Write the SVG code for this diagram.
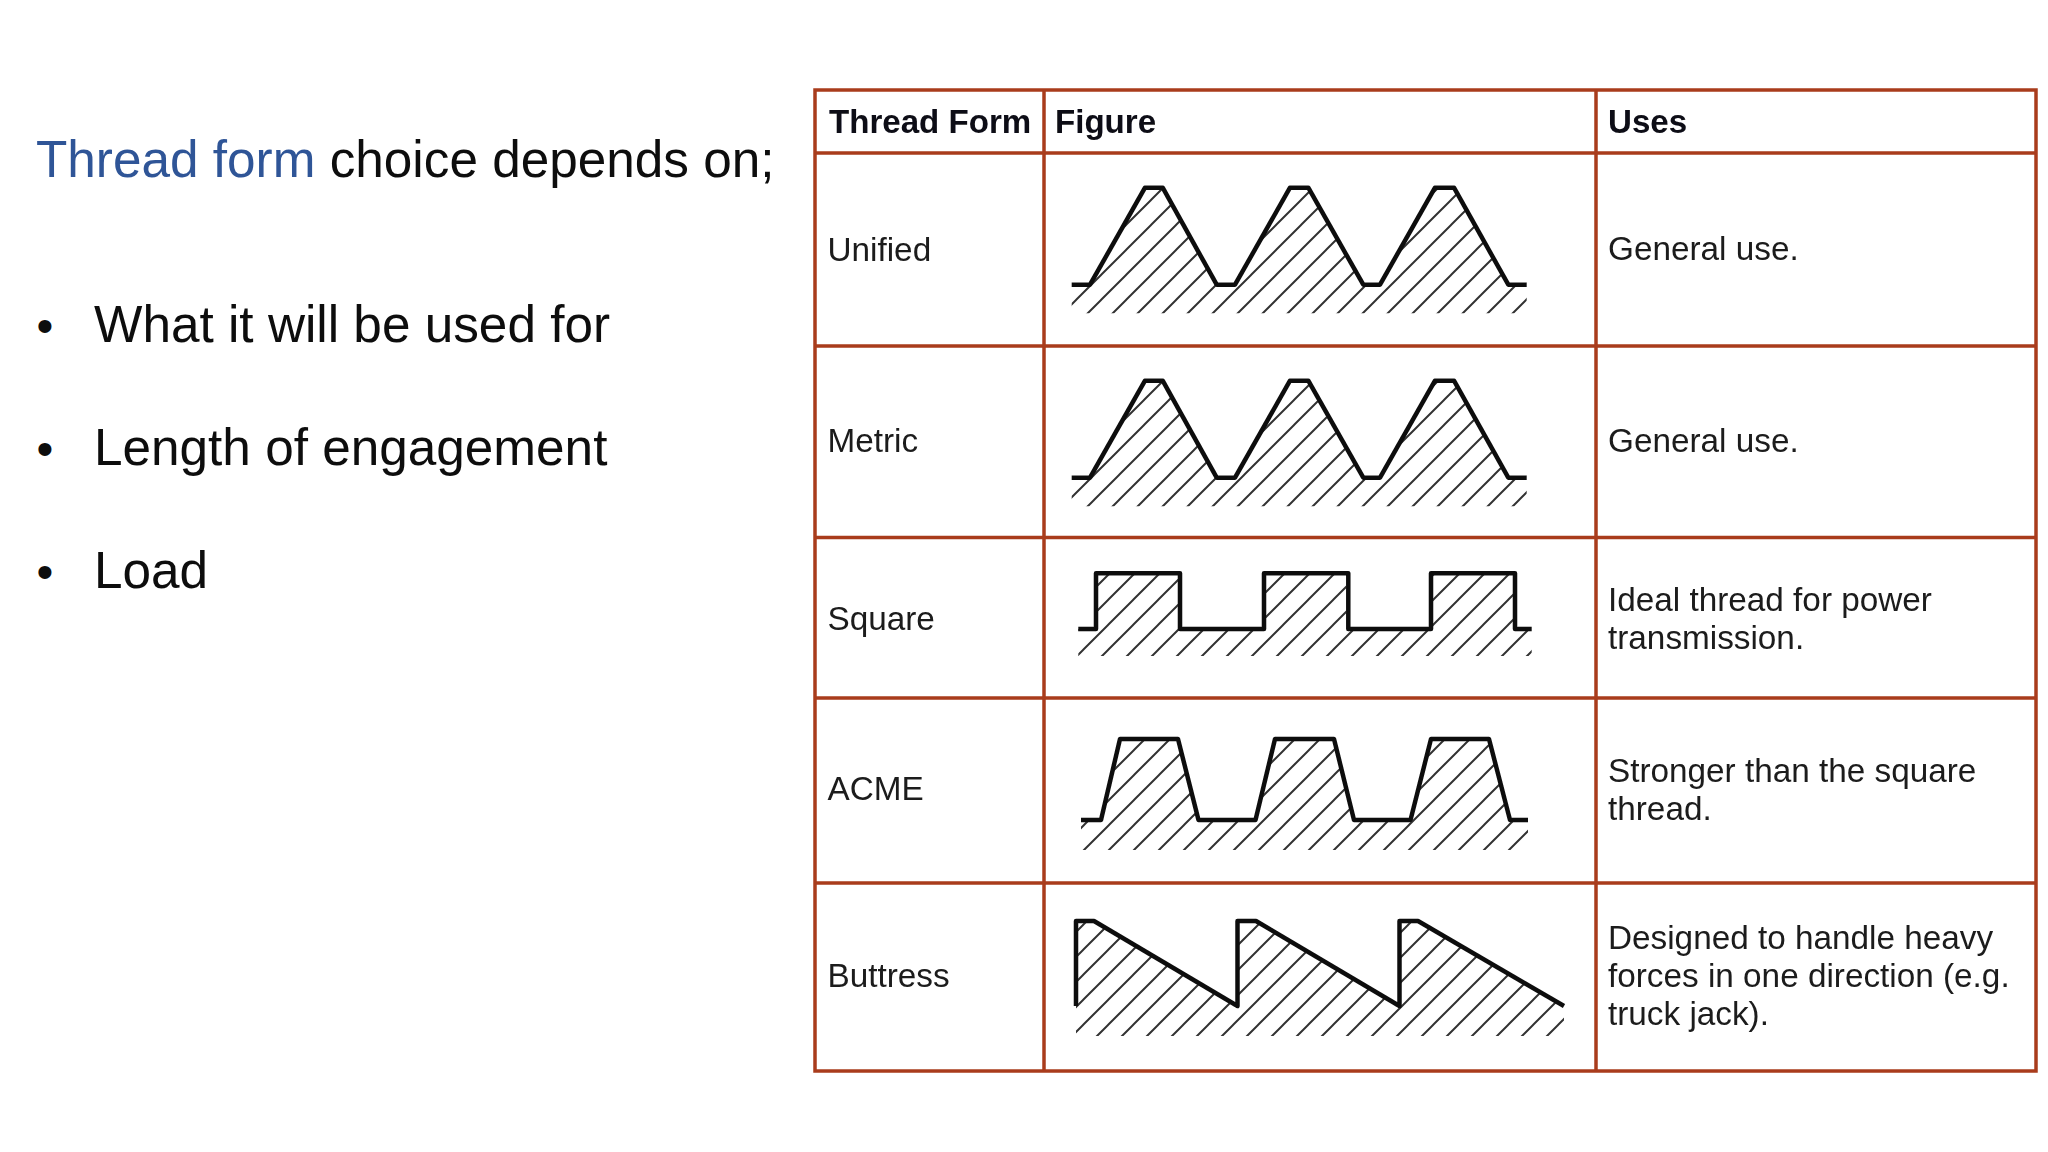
<svg xmlns="http://www.w3.org/2000/svg" width="2048" height="1152" viewBox="0 0 2048 1152">
<style>
text{font-family:"Liberation Sans",Arial,sans-serif}
.lead{font-size:51.3px;fill:#0d0d0d}
.dot{font-size:48px;fill:#0d0d0d}
.cell{font-size:33.300px;fill:#1a1a1a}
.head{font-size:33.100px;font-weight:700;fill:#0a0a14}
.grid{stroke:#a93c1c;stroke-width:3.5;fill:none}
.profile{fill:none;stroke:#111;stroke-width:4.500;stroke-linejoin:round}
.tile{stroke:#333;stroke-width:2;fill:none}
.soft{filter:url(#soft)}
</style>
<defs>
<filter id="soft" x="-2%" y="-5%" width="104%" height="110%"><feGaussianBlur stdDeviation="0.5"/></filter>
<path id="t" class="tile" d="M-5 5L5 -5M0 25L25 0M20 30L30 20"/>
<pattern id="h1" width="25" height="25" patternUnits="userSpaceOnUse" patternTransform="translate(1 0)"><use href="#t"/></pattern>
<pattern id="h2" width="25" height="25" patternUnits="userSpaceOnUse" patternTransform="translate(19 0)"><use href="#t"/></pattern>
<pattern id="h3" width="25" height="25" patternUnits="userSpaceOnUse" patternTransform="translate(8 0)"><use href="#t"/></pattern>
<pattern id="h4" width="25" height="25" patternUnits="userSpaceOnUse" patternTransform="translate(9 0)"><use href="#t"/></pattern>
<pattern id="h5" width="25" height="25" patternUnits="userSpaceOnUse" patternTransform="translate(8 0)"><use href="#t"/></pattern>
</defs>
<rect width="2048" height="1152" fill="#fff"/>
<g id="intro">
<text class="lead" x="36" y="177"><tspan fill="#2f5597">Thread form</tspan> choice depends on;</text>
<text class="dot" x="36.600" y="341.600">•</text><text class="lead" x="94" y="342">What it will be used for</text>
<text class="dot" x="36.600" y="464.600">•</text><text class="lead" x="94" y="465">Length of engagement</text>
<text class="dot" x="36.600" y="587.600">•</text><text class="lead" x="94" y="588">Load</text>
</g>
<g id="table-grid" class="grid">
<rect x="815" y="90" width="1221" height="981"/>
<path d="M1044 90V1071M1596 90V1071M815 153H2036M815 346H2036M815 537.500H2036M815 698H2036M815 883H2036"/>
</g>
<g id="row-header" class="soft">
<text class="head" x="829" y="133">Thread Form</text>
<text class="head" x="1055" y="133">Figure</text>
<text class="head" x="1608" y="133">Uses</text>
</g>
<g id="row-unified" class="soft">
<text class="cell" x="827.500" y="261">Unified</text>
<polygon fill="url(#h1)" points="1071.700,284.700 1090,284.700 1145,187.700 1162.700,187.700 1216.700,284.700 1235,284.700 1290,187.700 1308.300,187.700 1363.300,284.700 1380,284.700 1435,187.700 1454,187.700 1508.300,284.700 1526.700,284.700 1526.700,313.300 1071.700,313.300"/>
<polyline class="profile" points="1071.700,284.700 1090,284.700 1145,187.700 1162.700,187.700 1216.700,284.700 1235,284.700 1290,187.700 1308.300,187.700 1363.300,284.700 1380,284.700 1435,187.700 1454,187.700 1508.300,284.700 1526.700,284.700"/>
<text class="cell" x="1608" y="260">General use.</text>
</g>
<g id="row-metric" class="soft">
<text class="cell" x="827.500" y="452">Metric</text>
<polygon fill="url(#h2)" points="1071.700,477.700 1090,477.700 1145,380.700 1162.700,380.700 1216.700,477.700 1235,477.700 1290,380.700 1308.300,380.700 1363.300,477.700 1380,477.700 1435,380.700 1454,380.700 1508.300,477.700 1526.700,477.700 1526.700,506.300 1071.700,506.300"/>
<polyline class="profile" points="1071.700,477.700 1090,477.700 1145,380.700 1162.700,380.700 1216.700,477.700 1235,477.700 1290,380.700 1308.300,380.700 1363.300,477.700 1380,477.700 1435,380.700 1454,380.700 1508.300,477.700 1526.700,477.700"/>
<text class="cell" x="1608" y="452">General use.</text>
</g>
<g id="row-square" class="soft">
<text class="cell" x="827.500" y="630">Square</text>
<polygon fill="url(#h3)" points="1078.300,629 1096,629 1096,573.300 1180,573.300 1180,629 1264,629 1264,573.300 1348.300,573.300 1348.300,629 1431,629 1431,573.300 1515,573.300 1515,629 1531.700,629 1531.700,656 1078.300,656"/>
<polyline class="profile" points="1078.300,629 1096,629 1096,573.300 1180,573.300 1180,629 1264,629 1264,573.300 1348.300,573.300 1348.300,629 1431,629 1431,573.300 1515,573.300 1515,629 1531.700,629"/>
<text class="cell" x="1608" y="611">Ideal thread for power</text>
<text class="cell" x="1608" y="649">transmission.</text>
</g>
<g id="row-acme" class="soft">
<text class="cell" x="827.500" y="800">ACME</text>
<polygon fill="url(#h4)" points="1081,820 1101,820 1120,739 1178,739 1198.500,820 1255.500,820 1275,739 1334,739 1354,820 1410.500,820 1431,739 1489,739 1510,820 1528,820 1528,850 1081,850"/>
<polyline class="profile" points="1081,820 1101,820 1120,739 1178,739 1198.500,820 1255.500,820 1275,739 1334,739 1354,820 1410.500,820 1431,739 1489,739 1510,820 1528,820"/>
<text class="cell" x="1608" y="782">Stronger than the square</text>
<text class="cell" x="1608" y="820">thread.</text>
</g>
<g id="row-buttress" class="soft">
<text class="cell" x="827.500" y="987">Buttress</text>
<polygon fill="url(#h5)" points="1076,921 1094,921 1237.500,1006 1237.500,921 1256,921 1399.500,1006 1399.500,921 1418,921 1564,1006 1564,1036 1076,1036"/>
<polyline class="profile" points="1076,1006 1076,921 1094,921 1237.500,1006 1237.500,921 1256,921 1399.500,1006 1399.500,921 1418,921 1564,1006"/>
<text class="cell" x="1608" y="949">Designed to handle heavy</text>
<text class="cell" x="1608" y="987">forces in one direction (e.g.</text>
<text class="cell" x="1608" y="1025">truck jack).</text>
</g>
</svg>
